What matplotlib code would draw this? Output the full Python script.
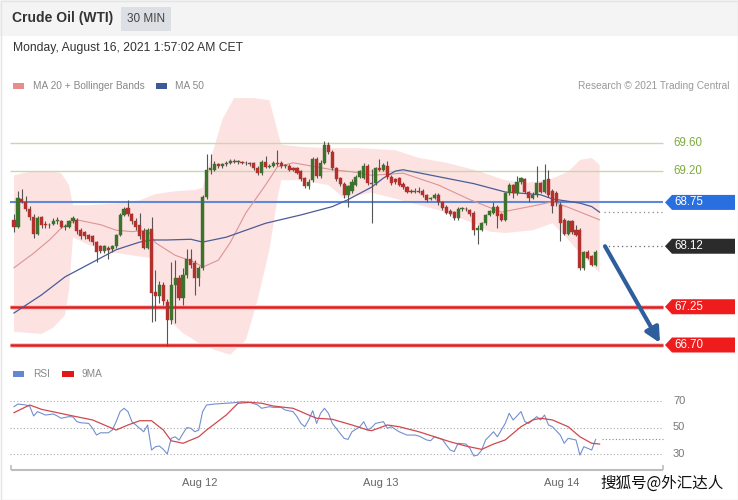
import matplotlib
matplotlib.use('Agg')
import matplotlib.pyplot as plt
from matplotlib.patches import Polygon, Rectangle
import numpy as np

plt.rcParams['font.family'] = ['Liberation Sans', 'DejaVu Sans']

# 30 min bars, index 0 = first visible bar
opens = [68.50, 68.40, 68.80, 68.76, 68.66, 68.54, 68.30, 68.54, 68.44, 68.42,
         68.44, 68.48, 68.48, 68.40, 68.40, 68.48, 68.50, 68.36, 68.32, 68.28,
         68.26, 68.18, 68.12, 68.05, 68.10, 68.08, 68.12, 68.28, 68.57, 68.67,
         68.58, 68.48, 68.42, 68.34, 68.10, 68.37, 67.46, 67.40, 67.56, 67.32,
         67.06, 67.56, 67.66, 67.38, 67.70, 67.93, 67.88, 67.66, 67.80, 68.83,
         69.22, 69.22, 69.30, 69.27, 69.30, 69.32, 69.35, 69.33, 69.33, 69.31,
         69.32, 69.31, 69.25, 69.17, 69.33, 69.26, 69.28, 69.32, 69.32, 69.27,
         69.28, 69.24, 69.24, 69.20, 69.10, 68.98, 69.07, 69.37, 69.13, 69.32,
         69.58, 69.47, 69.24, 69.10, 69.02, 68.85, 68.92, 69.00, 69.12, 69.10,
         69.27, 69.03, 69.03, 69.24, 69.22, 69.27, 69.12, 69.08, 69.10, 69.02,
         68.97, 68.91, 68.90, 68.91, 68.92, 68.85, 68.80, 68.81, 68.86, 68.75,
         68.69, 68.63, 68.61, 68.52, 68.66, 68.66, 68.64, 68.60, 68.35, 68.36,
         68.45, 68.57, 68.60, 68.68, 68.58, 68.50, 68.88, 69.00, 68.88, 69.05,
         69.08, 68.90, 68.82, 68.85, 69.03, 68.90, 69.08, 68.92, 68.88, 68.72,
         68.50, 68.30, 68.48, 68.35, 68.35, 67.81, 68.03, 67.98, 67.85]
highs = [68.58, 68.92, 68.94, 68.84, 68.70, 68.58, 68.56, 68.56, 68.48, 68.46,
         68.52, 68.54, 68.50, 68.44, 68.50, 68.56, 68.52, 68.38, 68.34, 68.30,
         68.28, 68.20, 68.14, 68.14, 68.12, 68.14, 68.30, 68.60, 68.68, 68.78,
         68.60, 68.52, 68.60, 68.38, 68.38, 68.54, 67.78, 67.62, 67.60, 67.36,
         67.90, 67.92, 67.70, 67.80, 68.08, 68.08, 67.92, 67.84, 68.86, 69.44,
         69.44, 69.34, 69.32, 69.32, 69.34, 69.38, 69.38, 69.36, 69.35, 69.34,
         69.33, 69.33, 69.27, 69.36, 69.42, 69.30, 69.34, 69.50, 69.34, 69.30,
         69.30, 69.26, 69.26, 69.22, 69.12, 69.08, 69.40, 69.40, 69.36, 69.64,
         69.62, 69.50, 69.26, 69.12, 69.05, 69.00, 69.08, 69.14, 69.22, 69.32,
         69.30, 69.23, 69.26, 69.38, 69.32, 69.34, 69.14, 69.10, 69.12, 69.04,
         68.99, 68.94, 68.96, 68.97, 68.94, 68.87, 68.83, 68.88, 68.88, 68.77,
         68.71, 68.65, 68.63, 68.68, 68.69, 68.68, 68.66, 68.62, 68.42, 68.47,
         68.58, 68.64, 68.75, 68.72, 68.60, 68.90, 69.03, 69.02, 69.13, 69.12,
         69.10, 68.92, 68.90, 69.28, 69.05, 69.30, 69.22, 68.95, 68.92, 68.76,
         68.52, 68.50, 68.50, 68.42, 68.38, 68.05, 68.06, 68.00, 68.06]
lows = [68.33, 68.38, 68.74, 68.62, 68.50, 68.24, 68.28, 68.38, 68.38, 68.38,
        68.42, 68.44, 68.38, 68.36, 68.38, 68.46, 68.30, 68.22, 68.22, 68.20,
        68.14, 67.90, 68.02, 68.02, 67.94, 68.04, 68.10, 68.26, 68.55, 68.56,
        68.44, 68.36, 68.22, 68.08, 68.08, 67.03, 67.04, 67.30, 67.28, 66.68,
        67.00, 67.02, 67.34, 67.28, 67.66, 67.80, 67.42, 67.55, 67.78, 68.80,
        69.16, 69.20, 69.24, 69.25, 69.28, 69.30, 69.31, 69.30, 69.30, 69.29,
        69.28, 69.22, 69.15, 69.15, 69.24, 69.24, 69.26, 69.28, 69.25, 69.24,
        69.20, 69.20, 69.16, 69.06, 68.96, 68.94, 69.05, 69.10, 69.10, 69.30,
        69.44, 69.22, 69.06, 68.98, 68.82, 68.68, 68.88, 68.98, 69.10, 69.08,
        69.00, 68.45, 69.00, 69.20, 69.20, 69.08, 69.00, 69.02, 68.98, 68.95,
        68.88, 68.88, 68.88, 68.88, 68.83, 68.76, 68.78, 68.80, 68.72, 68.64,
        68.58, 68.56, 68.50, 68.50, 68.63, 68.62, 68.56, 68.28, 68.15, 68.34,
        68.43, 68.55, 68.58, 68.38, 68.48, 68.48, 68.86, 68.82, 68.86, 69.02,
        68.88, 68.75, 68.80, 68.83, 68.88, 68.88, 68.83, 68.60, 68.70, 68.20,
        68.28, 68.28, 68.30, 68.26, 67.78, 67.78, 67.93, 67.83, 67.83]
closes = [68.40, 68.82, 68.76, 68.66, 68.54, 68.30, 68.52, 68.42, 68.42, 68.43,
          68.48, 68.50, 68.40, 68.41, 68.48, 68.52, 68.34, 68.26, 68.26, 68.22,
          68.18, 68.04, 68.05, 68.12, 68.06, 68.12, 68.28, 68.57, 68.65, 68.58,
          68.48, 68.40, 68.26, 68.10, 68.36, 67.45, 67.40, 67.56, 67.33, 67.06,
          67.56, 67.66, 67.38, 67.70, 67.93, 67.85, 67.66, 67.80, 68.83, 69.22,
          69.24, 69.30, 69.27, 69.30, 69.32, 69.35, 69.33, 69.34, 69.31, 69.32,
          69.30, 69.24, 69.17, 69.33, 69.26, 69.28, 69.32, 69.30, 69.27, 69.28,
          69.22, 69.22, 69.18, 69.08, 68.98, 69.05, 69.37, 69.13, 69.32, 69.58,
          69.47, 69.24, 69.08, 69.01, 68.85, 68.98, 69.05, 69.12, 69.20, 69.27,
          69.03, 69.02, 69.24, 69.22, 69.29, 69.11, 69.03, 69.05, 69.00, 68.97,
          68.90, 68.90, 68.91, 68.90, 68.85, 68.78, 68.81, 68.86, 68.75, 68.67,
          68.60, 68.59, 68.52, 68.66, 68.66, 68.65, 68.58, 68.35, 68.38, 68.45,
          68.57, 68.62, 68.68, 68.55, 68.50, 68.88, 69.00, 68.88, 69.05, 69.10,
          68.90, 68.82, 68.86, 69.03, 68.90, 69.07, 68.85, 68.70, 68.75, 68.45,
          68.30, 68.48, 68.32, 68.28, 67.81, 68.03, 67.95, 67.85, 68.03]

# indicator lines, read at bar indices
ma20_idx = [0, 5, 9, 12, 16, 22, 26, 30, 34, 36, 41, 46, 48, 52, 55, 59, 64, 67,
            71, 77, 81, 86, 91, 99, 108, 116, 124, 133, 137, 141, 149]
ma20 = [67.81, 68.02, 68.21, 68.38, 68.50, 68.43, 68.35, 68.33, 68.35, 68.17,
        67.99, 67.89, 67.82, 67.92, 68.17, 68.60, 69.00, 69.26, 69.32, 69.26,
        69.22, 69.19, 69.14, 69.17, 69.00, 68.79, 68.61, 68.71, 68.76, 68.68, 68.50]
ma50_idx = [0, 7, 13, 20, 26, 32, 35, 39, 45, 48, 54, 64, 73, 81, 85, 91, 94, 97,
            99, 108, 117, 125, 134, 137, 144, 147, 149]
ma50 = [67.16, 67.42, 67.68, 67.89, 68.07, 68.18, 68.21, 68.21, 68.22, 68.18,
        68.25, 68.45, 68.57, 68.69, 68.79, 68.97, 69.10, 69.20, 69.22, 69.12,
        69.02, 68.90, 68.86, 68.80, 68.74, 68.69, 68.61]
bb_up_idx = [0, 4, 9, 12, 14, 15, 19, 27, 32, 36, 41, 46, 48, 50, 53, 56, 61, 65,
             67, 68, 73, 80, 88, 97, 103, 110, 117, 125, 130, 136, 141, 144, 147, 149]
bb_up = [69.14, 69.19, 69.20, 69.17, 69.00, 68.71, 68.71, 68.74, 68.78, 68.87,
         68.91, 68.93, 68.96, 69.36, 69.94, 70.25, 70.25, 70.22, 69.79, 69.58,
         69.55, 69.53, 69.53, 69.50, 69.39, 69.32, 69.22, 69.07, 69.03, 69.07,
         69.19, 69.36, 69.39, 69.29]
bb_lo_idx = [0, 7, 10, 13, 14, 15, 19, 24, 31, 35, 36, 40, 43, 47, 51, 55, 59, 62,
             65, 67, 68, 73, 80, 84, 91, 98, 108, 117, 121, 125, 132, 137, 140, 144, 149]
bb_lo = [66.89, 66.86, 66.95, 67.13, 67.49, 68.25, 68.14, 68.04, 67.98, 67.95,
         67.64, 67.03, 66.87, 66.73, 66.63, 66.56, 66.77, 67.35, 68.07, 68.79,
         69.07, 69.07, 69.00, 68.81, 68.89, 68.79, 68.64, 68.45, 68.33, 68.31,
         68.35, 68.45, 68.28, 68.02, 67.74]

rsi_idx = [0, 1, 3, 4, 5, 6, 8, 10, 11, 12, 14, 15, 16, 17, 19, 20, 21, 22, 24, 25,
           26, 27, 28, 29, 30, 31, 33, 34, 35, 36, 37, 38, 39, 40, 41, 42, 43, 44, 45, 46,
           47, 48, 49, 51, 54, 56, 58, 60, 62, 63, 65, 66, 68, 69, 71, 72, 73, 74, 75, 76,
           77, 78, 79, 80, 81, 83, 84, 85, 86, 88, 89, 90, 91, 92, 94, 95, 96, 98, 100, 102,
           103, 105, 106, 107, 109, 110, 111, 112, 113, 115, 116, 117, 118, 119, 120, 121,
           122, 123, 125, 126, 127, 128, 129, 130, 131, 133, 134, 135, 136, 137, 139, 140,
           141, 143, 144, 145, 147, 148]
rsi = [65.7, 67.7, 67.0, 66.0, 58.7, 62.0, 59.4, 60.2, 58.7, 57.0, 58.2, 58.0, 54.4,
       53.6, 53.1, 49.4, 44.3, 46.0, 46.0, 48.1, 54.4, 62.0, 64.5, 62.0, 54.4, 51.9,
       46.8, 51.9, 33.0, 35.5, 36.0, 33.5, 30.0, 41.8, 43.0, 40.5, 45.5, 50.0, 49.4,
       46.8, 48.0, 62.0, 67.0, 67.7, 68.3, 68.7, 69.5, 69.0, 67.0, 64.5, 65.7, 65.2,
       65.2, 63.2, 62.0, 58.2, 53.1, 50.6, 55.7, 62.7, 53.1, 60.7, 64.5, 60.7, 53.1,
       45.5, 41.8, 41.0, 46.8, 50.6, 54.4, 48.1, 50.0, 53.1, 54.4, 49.4, 50.6, 46.8,
       44.3, 44.3, 43.6, 40.6, 40.0, 43.0, 41.0, 36.8, 33.0, 31.8, 38.1, 37.5, 34.3,
       28.5, 29.2, 33.0, 40.6, 43.6, 46.8, 43.0, 53.1, 60.7, 55.7, 58.7, 62.0, 54.4,
       53.1, 58.2, 55.7, 59.4, 51.9, 50.6, 44.3, 38.1, 41.8, 40.6, 29.2, 35.5, 33.0, 41.0]
ma9_idx = [0, 4, 7, 11, 15, 20, 24, 26, 29, 32, 35, 38, 40, 43, 47, 49, 54, 57, 60,
           63, 66, 71, 73, 75, 77, 81, 86, 90, 91, 95, 98, 103, 107, 111, 115, 119, 122,
           125, 129, 132, 134, 137, 141, 144, 147, 149]
ma9 = [61.2, 67.0, 63.7, 61.2, 58.7, 55.7, 50.6, 48.1, 51.9, 55.1, 55.1, 48.1, 40.0,
       38.1, 43.0, 48.1, 59.4, 68.3, 69.0, 68.3, 66.2, 64.5, 62.0, 59.4, 57.0, 56.2,
       51.9, 48.1, 47.6, 51.9, 50.6, 46.8, 43.0, 39.2, 36.0, 33.5, 37.5, 40.6, 50.6,
       55.7, 57.0, 55.7, 50.6, 43.0, 38.1, 37.5]

resistances = [69.60, 69.20]
pivot = 68.75
supports = [67.25, 66.70]
last_price = 68.12
rsi_levels = [70, 50, 30]
day_labels = ['Aug 12', 'Aug 13', 'Aug 14']
day_pos = [47.3, 93.4, 139.4]

W, H = 738, 500


# pixel layout -> data coords
def px2i(px):
    return (px - 14) / 3.93


def py2p(py):
    return 69.60 - (py - 143.3) / 69.55


def py2r(py):
    return 70 - (py - 401) / 1.325


fig = plt.figure(figsize=(W / 100, H / 100), dpi=100)

bg = fig.add_axes([0, 0, 1, 1])
bg.set_xlim(0, W)
bg.set_ylim(H, 0)
bg.axis('off')
bg.add_patch(Rectangle((0, 0), W, 36, color='#f4f4f4', lw=0))
bg.add_patch(Rectangle((121, 7), 50, 24, color='#dcdfe4', lw=0))
bg.add_patch(Rectangle((0.5, 0.5), W - 1, H - 1, fill=False, ec='#e4e4e4', lw=1))
bg.text(12, 18, 'Crude Oil (WTI)', fontsize=10, fontweight='bold', color='#333333', va='center')
bg.text(146, 18.5, '30 MIN', fontsize=8.5, color='#444444', ha='center', va='center')
bg.text(13, 48, 'Monday, August 16, 2021 1:57:02 AM CET', fontsize=8.7, color='#333333', va='center')

bg.add_patch(Rectangle((13, 83), 11, 6, color='#e88c8c', lw=0))
bg.text(33, 86, 'MA 20 + Bollinger Bands', fontsize=7.3, color='#888888', va='center')
bg.add_patch(Rectangle((156, 83), 11, 6, color='#3d5a96', lw=0))
bg.text(175, 86, 'MA 50', fontsize=7.3, color='#888888', va='center')
bg.text(729, 86, 'Research \u00a9 2021 Trading Central', fontsize=7.3, color='#999999',
        ha='right', va='center')

bg.add_patch(Rectangle((13, 371), 11, 6, color='#6488d0', lw=0))
bg.text(33, 374, 'RSI', fontsize=7.3, color='#888888', va='center')
bg.add_patch(Rectangle((62, 371), 12, 6, color='#e01818', lw=0))
bg.text(82, 374, '9MA', fontsize=7.3, color='#888888', va='center')

bg.text(600, 483, '搜狐号@外汇达人', fontsize=11.2, color='#111111', va='center',
        family=['Noto Sans CJK SC', 'DejaVu Sans'])

# price panel
ax = fig.add_axes([10 / W, 1 - 358 / H, 728 / W, 263 / H])
ax.set_xlim(px2i(10), px2i(738))
ax.set_ylim(py2p(358), py2p(95))
ax.axis('off')

band = list(zip(bb_up_idx, bb_up)) + list(zip(bb_lo_idx[::-1], bb_lo[::-1]))
ax.add_patch(Polygon(band, closed=True, fc='#fde2e2', ec='none', zorder=1))

x0, x1 = px2i(10), px2i(663)
ax.hlines(resistances, x0, x1, color='#c9d8a6', lw=1, zorder=2)
ax.hlines(pivot, x0, x1, color='#5f88d8', lw=1.5, zorder=2)
for s in supports:
    ax.hlines(s, x0, x1, color='#f8cccc', lw=3.5, zorder=2)
    ax.hlines(s, x0, x1, color='#e01e1e', lw=1.8, zorder=3)

ax.plot(ma20_idx, ma20, color='#dd9494', lw=0.8, zorder=3)
ax.plot(ma50_idx, ma50, color='#4b5c96', lw=0.9, zorder=3)

o = np.array(opens)
h = np.array(highs)
l = np.array(lows)
c = np.array(closes)
xs = np.arange(len(c))
cols = np.where(c >= o, '#3c722c', '#b3302c')
ax.vlines(xs, l, h, color='#555555', lw=0.8, zorder=4)
ax.bar(xs, np.maximum(np.abs(c - o), 0.012), bottom=np.minimum(o, c), width=0.8,
       color=cols, edgecolor=cols, lw=0.3, zorder=5)

dots = (0, (1, 2.5))
ax.hlines(last_price, px2i(604), px2i(662), color='#666666', lw=0.9, linestyles=dots, zorder=3)
ax.hlines(ma50[-1], px2i(604), px2i(662), color='#888888', lw=0.9, linestyles=dots, zorder=3)

ax.annotate('', xy=(px2i(660), supports[-1] + 0.03), xytext=(px2i(605), last_price),
            arrowprops=dict(arrowstyle='-|>', color='#2f5e9c', lw=3, mutation_scale=22,
                            shrinkA=0, shrinkB=0), zorder=6)


def badge(price, color):
    hh = 7.5 / 69.55
    tip, left, right = px2i(665), px2i(672), px2i(735)
    pts = [(tip, price), (left, price + hh), (right, price + hh), (right, price - hh), (left, price - hh)]
    ax.add_patch(Polygon(pts, closed=True, fc=color, ec='none', zorder=6, clip_on=False))
    ax.text(px2i(674), price, f'{price:.2f}', color='white', fontsize=8.3, va='center', zorder=7)


for r in resistances:
    ax.text(px2i(673), r, f'{r:.2f}', color='#7daa3c', fontsize=8.3, va='center')
badge(pivot, '#2a6fe0')
badge(last_price, '#2b2b2b')
for s in supports:
    badge(s, '#ee1c1c')

# RSI panel
ax2 = fig.add_axes([10 / W, 1 - 495 / H, 728 / W, 110 / H])
ax2.set_xlim(px2i(10), px2i(738))
ax2.set_ylim(py2r(495), py2r(385))
ax2.axis('off')
ax2.hlines(rsi_levels, x0, x1, color='#aaaaaa', lw=0.8, linestyles=(0, (1, 2)))
for lv in rsi_levels:
    ax2.text(px2i(673), lv, str(lv), color='#777777', fontsize=8, va='center')
ax2.plot(rsi_idx, rsi, color='#7290cf', lw=0.8, zorder=3)
ax2.plot(ma9_idx, ma9, color='#d0484e', lw=0.9, zorder=4)
ax2.hlines(rsi[-1], px2i(602), px2i(663), color='#888888', lw=0.8, linestyles=(0, (1, 2)))

ya = py2r(470)
ax2.plot([px2i(11), px2i(663)], [ya, ya], color='#bdbdbd', lw=1.5, solid_capstyle='butt')
ax2.vlines([px2i(11), px2i(663)], ya, py2r(465), color='#bdbdbd', lw=1.2)
for p, lab in zip(day_pos, day_labels):
    ax2.text(p, py2r(483), lab, ha='center', va='center', fontsize=8, color='#666666')

fig.savefig('out.png', dpi=100)
